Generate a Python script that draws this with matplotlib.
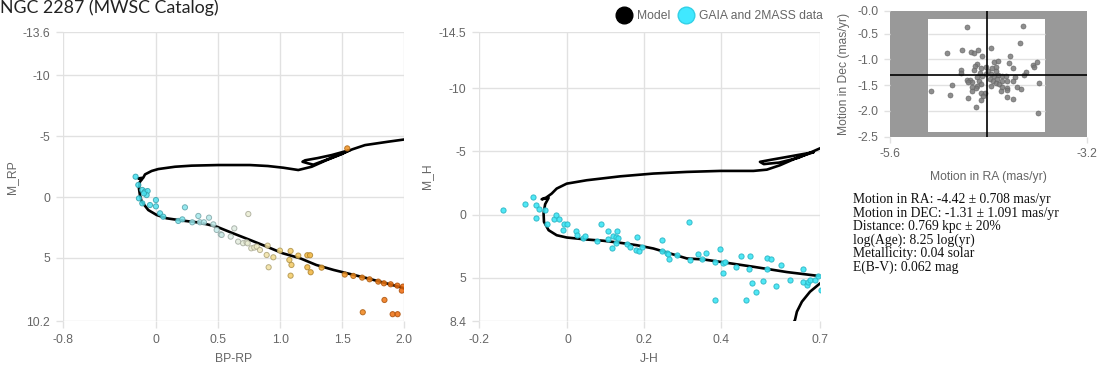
import matplotlib
matplotlib.use("Agg")
import matplotlib.pyplot as plt
import numpy as np
from matplotlib.colors import LinearSegmentedColormap, to_rgb
from matplotlib.patches import Rectangle
from matplotlib.lines import Line2D

# ---- data ----
# Gaia CMD: BP-RP vs M_RP
bp_rp = [-0.167, -0.145, -0.113, -0.091, -0.070, -0.078, -0.100, -0.140, -0.113, -0.051,
         -0.003, -0.003, 0.030, 0.056, 0.231, 0.177, 0.210, 0.290, 0.339, 0.352,
         0.384, 0.425, 0.460, 0.487, 0.520, 0.527, 0.600, 0.629, 0.742, 0.660,
         0.700, 0.728, 0.737, 0.766, 0.790, 0.810, 0.836, 0.898, 0.890, 0.944,
         0.906, 0.997, 1.083, 1.073, 1.090, 1.083, 1.145, 1.218, 1.240, 1.218,
         1.245, 1.333, 1.540, 1.520, 1.589, 1.660, 1.720, 1.790, 1.836, 1.890,
         1.944, 1.990, 1.980, 1.840, 1.665, 1.906, 1.946]
m_rp = [-1.67, -0.99, -0.58, -0.44, -0.49, -0.16, -0.30, 0.11, 0.52, 0.66,
        0.25, 0.77, 1.34, 1.62, 0.85, 1.97, 1.84, 2.08, 1.56, 2.08,
        2.08, 1.70, 2.25, 2.71, 3.07, 3.12, 3.26, 2.58, 1.40, 3.67,
        3.80, 3.73, 3.81, 4.22, 4.16, 4.08, 4.36, 4.00, 4.77, 4.96,
        5.78, 4.41, 4.44, 5.18, 5.59, 6.47, 4.82, 4.79, 4.79, 5.78,
        6.19, 5.81, -4.00, 6.38, 6.49, 6.63, 6.77, 6.96, 7.10, 7.18,
        7.29, 7.37, 7.70, 8.47, 9.48, 9.64, 9.64]

# model isochrone in the Gaia CMD
iso_bprp = [2.10, 2.00, 1.70, 1.43, 1.29, 1.16, 1.02, 0.89, 0.755, 0.62,
            0.487, 0.352, 0.218, 0.083, 0.003, -0.065, -0.118, -0.132, -0.140, -0.132,
            -0.113, -0.145, -0.105, -0.091, -0.038, 0.016, 0.151, 0.285, 0.50, 0.755,
            0.90, 1.024, 1.145, 1.253, 1.374, 1.495, 1.56, 1.414, 1.30, 1.20,
            1.179, 1.22, 1.266, 1.387, 1.50, 1.58, 1.683, 1.87, 2.005, 2.10]
iso_mrp = [7.75, 7.50, 6.68, 6.00, 5.59, 5.04, 4.63, 4.08, 3.53, 2.99,
           2.44, 2.11, 1.95, 1.75, 1.48, 1.07, 0.38, -0.16, -0.71, -1.26,
           -1.48, -1.53, -1.59, -1.86, -2.14, -2.30, -2.49, -2.58, -2.63, -2.63,
           -2.55, -2.41, -2.22, -2.49, -3.04, -3.53, -3.86, -3.45, -3.20, -3.02,
           -2.90, -2.78, -2.66, -3.12, -3.58, -3.92, -4.27, -4.55, -4.74, -4.80]

# 2MASS CMD: J-H vs M_H
j_h = [-0.168, -0.111, -0.090, -0.081, -0.074, -0.059, -0.081, -0.054, -0.036, -0.029,
       -0.023, -0.009, -0.002, -0.012, 0.023, 0.026, 0.040, 0.045, 0.076, 0.087,
       0.106, 0.105, 0.117, 0.116, 0.125, 0.129, 0.130, 0.126, 0.154, 0.163,
       0.180, 0.178, 0.187, 0.193, 0.245, 0.245, 0.258, 0.261, 0.265, 0.284,
       0.317, 0.319, 0.338, 0.349, 0.359, 0.384, 0.395, 0.384, 0.403, 0.405,
       0.410, 0.437, 0.450, 0.464, 0.473, 0.471, 0.480, 0.489, 0.509, 0.518,
       0.528, 0.518, 0.542, 0.555, 0.578, 0.613, 0.613, 0.622, 0.626, 0.630,
       0.643, 0.652, 0.658]
m_h = [-0.40, -0.82, -1.40, -0.77, -0.42, -0.37, 0.26, 0.71, 0.32, 0.00,
       0.34, 0.77, 0.74, 1.24, 1.29, 1.66, 1.82, 1.69, 2.08, 0.71,
       1.29, 1.95, 1.72, 2.64, 1.77, 1.32, 1.85, 2.22, 2.35, 2.59,
       1.79, 2.82, 2.88, 2.56, 2.01, 2.90, 3.01, 3.14, 3.51, 3.22,
       0.63, 3.61, 3.14, 3.56, 3.06, 3.77, 2.74, 6.81, 4.67, 3.83,
       3.77, 4.12, 3.32, 6.78, 3.27, 4.35, 5.41, 6.15, 5.30, 3.48,
       3.54, 4.35, 5.67, 4.01, 5.22, 4.35, 5.38, 5.62, 5.33, 5.20,
       5.15, 4.88, 5.99]

iso_jh = [0.585, 0.591, 0.596, 0.609, 0.630, 0.656, 0.700, 0.720, 0.700, 0.656,
          0.570, 0.483, 0.397, 0.353, 0.310, 0.267, 0.223, 0.180, 0.137, 0.094,
          0.050, -0.002, -0.028, -0.049, -0.061, -0.062, -0.058, -0.049, -0.067, -0.055,
          -0.041, -0.028, -0.002, 0.050, 0.137, 0.223, 0.310, 0.397, 0.483, 0.518,
          0.552, 0.600, 0.640, 0.580, 0.530, 0.500, 0.510, 0.550, 0.600, 0.656, 0.700]
iso_mh = [8.70, 8.36, 7.70, 6.91, 6.12, 5.46, 5.20, 5.00, 4.95, 4.88,
          4.56, 4.14, 3.75, 3.56, 3.48, 3.09, 2.69, 2.43, 2.24, 2.08,
          1.98, 1.82, 1.64, 1.24, 0.58, -0.08, -0.82, -1.32, -1.21, -1.35,
          -1.66, -2.06, -2.45, -2.72, -3.03, -3.25, -3.38, -3.46, -3.46, -3.56,
          -3.91, -4.55, -4.95, -4.62, -4.35, -4.18, -4.00, -4.12, -4.50, -5.25, -5.60]

# proper motions
pm_ra = [-4.656, -3.986, -4.018, -4.899, -4.717, -4.616, -4.575, -4.527, -4.374, -4.475,
         -4.139, -4.333, -4.284, -4.151, -4.535, -4.563, -4.099, -3.856, -3.808, -3.841,
         -4.738, -4.738, -4.575, -4.495, -4.435, -4.405, -4.353, -4.313, -4.313, -4.507,
         -4.475, -4.435, -4.374, -4.333, -4.284, -4.232, -4.192, -4.083, -3.938, -3.962,
         -4.665, -4.624, -4.596, -4.648, -4.535, -4.515, -4.495, -4.535, -4.556, -4.596,
         -4.596, -4.381, -4.341, -4.293, -4.313, -4.272, -4.232, -4.180, -4.232, -4.365,
         -4.180, -4.099, -4.050, -4.002, -3.780, -4.838, -5.093, -4.866, -4.644, -4.495,
         -4.447, -4.462, -4.487, -4.556, -4.244, -4.172, -4.180, -4.102, -3.799]
pm_dec = [-0.380, -0.355, -0.684, -0.884, -0.820, -0.853, -0.884, -0.814, -0.787, -0.930,
          -0.942, -1.047, -1.027, -1.072, -1.091, -1.124, -1.174, -1.110, -1.058, -1.143,
          -1.207, -1.271, -1.207, -1.174, -1.155, -1.221, -1.174, -1.155, -1.233, -1.265,
          -1.318, -1.285, -1.285, -1.318, -1.304, -1.318, -1.318, -1.337, -1.252, -1.304,
          -1.395, -1.395, -1.446, -1.446, -1.349, -1.415, -1.479, -1.512, -1.556, -1.543,
          -1.608, -1.382, -1.415, -1.382, -1.465, -1.479, -1.415, -1.415, -1.531, -1.512,
          -1.556, -1.415, -1.531, -1.576, -1.465, -1.492, -1.620, -1.686, -1.756, -1.659,
          -1.653, -1.705, -1.783, -1.919, -1.620, -1.589, -1.736, -1.769, -2.041]

pm_ra_mean, pm_ra_err = -4.42, 0.708
pm_dec_mean, pm_dec_err = -1.31, 1.091

info_lines = [
    "Motion in RA: -4.42 \u00b1 0.708 mas/yr",
    "Motion in DEC: -1.31 \u00b1 1.091 mas/yr",
    "Distance: 0.769 kpc \u00b1 20%",
    "log(Age): 8.25 log(yr)",
    "Metallicity: 0.04 solar",
    "E(B-V): 0.062 mag",
]

# ---- styling ----
W, H = 1101, 372
TXT = "#666666"
GRID = "#e1e1e1"
FONT = "Liberation Sans"
plt.rcParams["font.family"] = FONT

fig = plt.figure(figsize=(W / 100, H / 100), dpi=100)


def px_axes(x0, y0, x1, y1):
    return fig.add_axes([x0 / W, 1 - y1 / H, (x1 - x0) / W, (y1 - y0) / H])


def style_cmd(ax):
    for s in ax.spines.values():
        s.set_visible(False)
    ax.grid(True, color=GRID, lw=1.0)
    ax.set_axisbelow(True)
    ax.tick_params(length=5, width=1, color=GRID, labelcolor=TXT, labelsize=8.7, pad=4.5)


# colour scale for the Gaia points
cmap = LinearSegmentedColormap.from_list("bprp", [
    (0.00, "#3ee0f0"), (0.14, "#5ee2ee"), (0.25, "#a8e8ec"), (0.36, "#dcece6"),
    (0.45, "#efedcc"), (0.545, "#f3d67a"), (0.66, "#f2b43a"), (0.82, "#f08a1c"),
    (1.00, "#ee680a")])
norm_c = (np.array(bp_rp) + 0.2) / 2.2
face = [cmap(v) for v in norm_c]
edge = [tuple(np.array(to_rgb(c)) * 0.72) for c in face]

# left: Gaia CMD
ax1 = px_axes(63.3, 32.3, 404.3, 321)
style_cmd(ax1)
ax1.plot(iso_bprp, iso_mrp, color="black", lw=1.9, zorder=3, solid_joinstyle="round")
ax1.scatter(bp_rp, m_rp, s=14, c=face, edgecolors=edge, linewidths=0.7, alpha=0.85, zorder=4)
ax1.set_xlim(-0.75, 2.0)
ax1.set_ylim(10.2, -13.55)
ax1.set_xticks([-0.75, 0, 0.5, 1.0, 1.5, 2.0])
ax1.set_xticklabels(["-0.8", "0", "0.5", "1.0", "1.5", "2.0"])
ax1.set_yticks([-13.55, -10, -5, 0, 5, 10.2])
ax1.set_yticklabels(["-13.6", "-10", "-5", "0", "5", "10.2"])
ax1.set_xlabel("BP-RP", color=TXT, fontsize=8.7)
ax1.xaxis.set_label_coords(0.5, -38 / 288.7)
ax1.xaxis.label.set_va("center")
ax1.set_ylabel("M_RP", color=TXT, fontsize=8.7)
ax1.yaxis.set_label_coords(-51 / 341, 0.5)
ax1.yaxis.label.set_va("center")

# middle: 2MASS CMD
cyan = "#3de6f5"
ax2 = px_axes(479.3, 32.3, 820, 321)
style_cmd(ax2)
ax2.plot(iso_jh, iso_mh, color="black", lw=1.9, zorder=3, solid_joinstyle="round")
ax2.scatter(j_h, m_h, s=14, color=cyan, edgecolors="#2bb5c4", linewidths=0.7, alpha=0.9, zorder=4)
ax2.set_xlim(-0.229, 0.656)
ax2.set_ylim(8.44, -14.45)
ax2.set_xticks([-0.229, 0, 0.2, 0.4, 0.656])
ax2.set_xticklabels(["-0.2", "0", "0.2", "0.4", "0.7"])
ax2.set_yticks([-14.45, -10, -5, 0, 5, 8.44])
ax2.set_yticklabels(["-14.5", "-10", "-5", "0", "5", "8.4"])
ax2.set_xlabel("J-H", color=TXT, fontsize=8.7)
ax2.xaxis.set_label_coords(0.5, -38 / 288.7)
ax2.xaxis.label.set_va("center")
ax2.set_ylabel("M_H", color=TXT, fontsize=8.7)
ax2.yaxis.set_label_coords(-52 / 341, 0.5)
ax2.yaxis.label.set_va("center")

# legend above the middle panel
handles = [
    Line2D([], [], ls="none", marker="o", ms=12, color="black"),
    Line2D([], [], ls="none", marker="o", ms=12, color="#40e8ff", mec="#33d0e6"),
]
fig.legend(handles, ["Model", "GAIA and 2MASS data"], loc="center right",
           bbox_to_anchor=(823 / W, 1 - 16 / H), ncol=2, frameon=False,
           fontsize=8.7, labelcolor=TXT, handletextpad=0.45, columnspacing=0.75,
           handlelength=1.2, borderaxespad=0, borderpad=0)

# right: proper motion panel
ax3 = px_axes(889.5, 10.7, 1087.3, 136.7)
for s in ax3.spines.values():
    s.set_visible(False)
ax3.set_facecolor("#999999")
ax3.set_xlim(-5.6, -3.2)
ax3.set_ylim(-2.5, -0.058)
ax3.add_patch(Rectangle((pm_ra_mean - pm_ra_err, pm_dec_mean - pm_dec_err),
                        2 * pm_ra_err, 2 * pm_dec_err, facecolor="white",
                        edgecolor="none", zorder=1))
ax3.hlines([-0.5, -1.0, -1.5, -2.0], pm_ra_mean - pm_ra_err, pm_ra_mean + pm_ra_err,
           color=GRID, lw=1.0, zorder=2)
ax3.scatter(pm_ra, pm_dec, s=13, color="#7a7a7a", edgecolors="#666666",
            linewidths=0.5, alpha=0.85, zorder=3)
ax3.axvline(pm_ra_mean, color="black", lw=1.2, zorder=4)
ax3.axhline(pm_dec_mean, color="black", lw=1.2, zorder=4)
ax3.set_xticks([-5.6, -3.2])
ax3.set_xticklabels(["-5.6", "-3.2"])
ax3.set_yticks([-0.058, -0.5, -1.0, -1.5, -2.0, -2.5])
ax3.set_yticklabels(["-0.0", "-0.5", "-1.0", "-1.5", "-2.0", "-2.5"])
ax3.tick_params(length=4, width=1, color=GRID, labelcolor=TXT, labelsize=8.7, pad=4)
ax3.set_xlabel("Motion in RA (mas/yr)", color=TXT, fontsize=8.7)
ax3.xaxis.set_label_coords(0.5, -40 / 126)
ax3.xaxis.label.set_va("center")
ax3.set_ylabel("Motion in Dec (mas/yr)", color=TXT, fontsize=8.7)
ax3.yaxis.set_label_coords(-46 / 198, 0.5)
ax3.yaxis.label.set_va("center")

# fitted parameters text
for i, line in enumerate(info_lines):
    fig.text(852.5 / W, 1 - (199.5 + 13.6 * i) / H, line, fontsize=9.8,
             family="Liberation Serif", color="#111111", va="center", ha="left")

# title (clipped at the top like the page)
fig.text(0.5 / W, 1 - 12.5 / H, "NGC 2287 (MWSC Catalog)", fontsize=12.8,
         family="Lato", color="#222222", va="baseline", ha="left")

fig.savefig("out.png", dpi=100)
